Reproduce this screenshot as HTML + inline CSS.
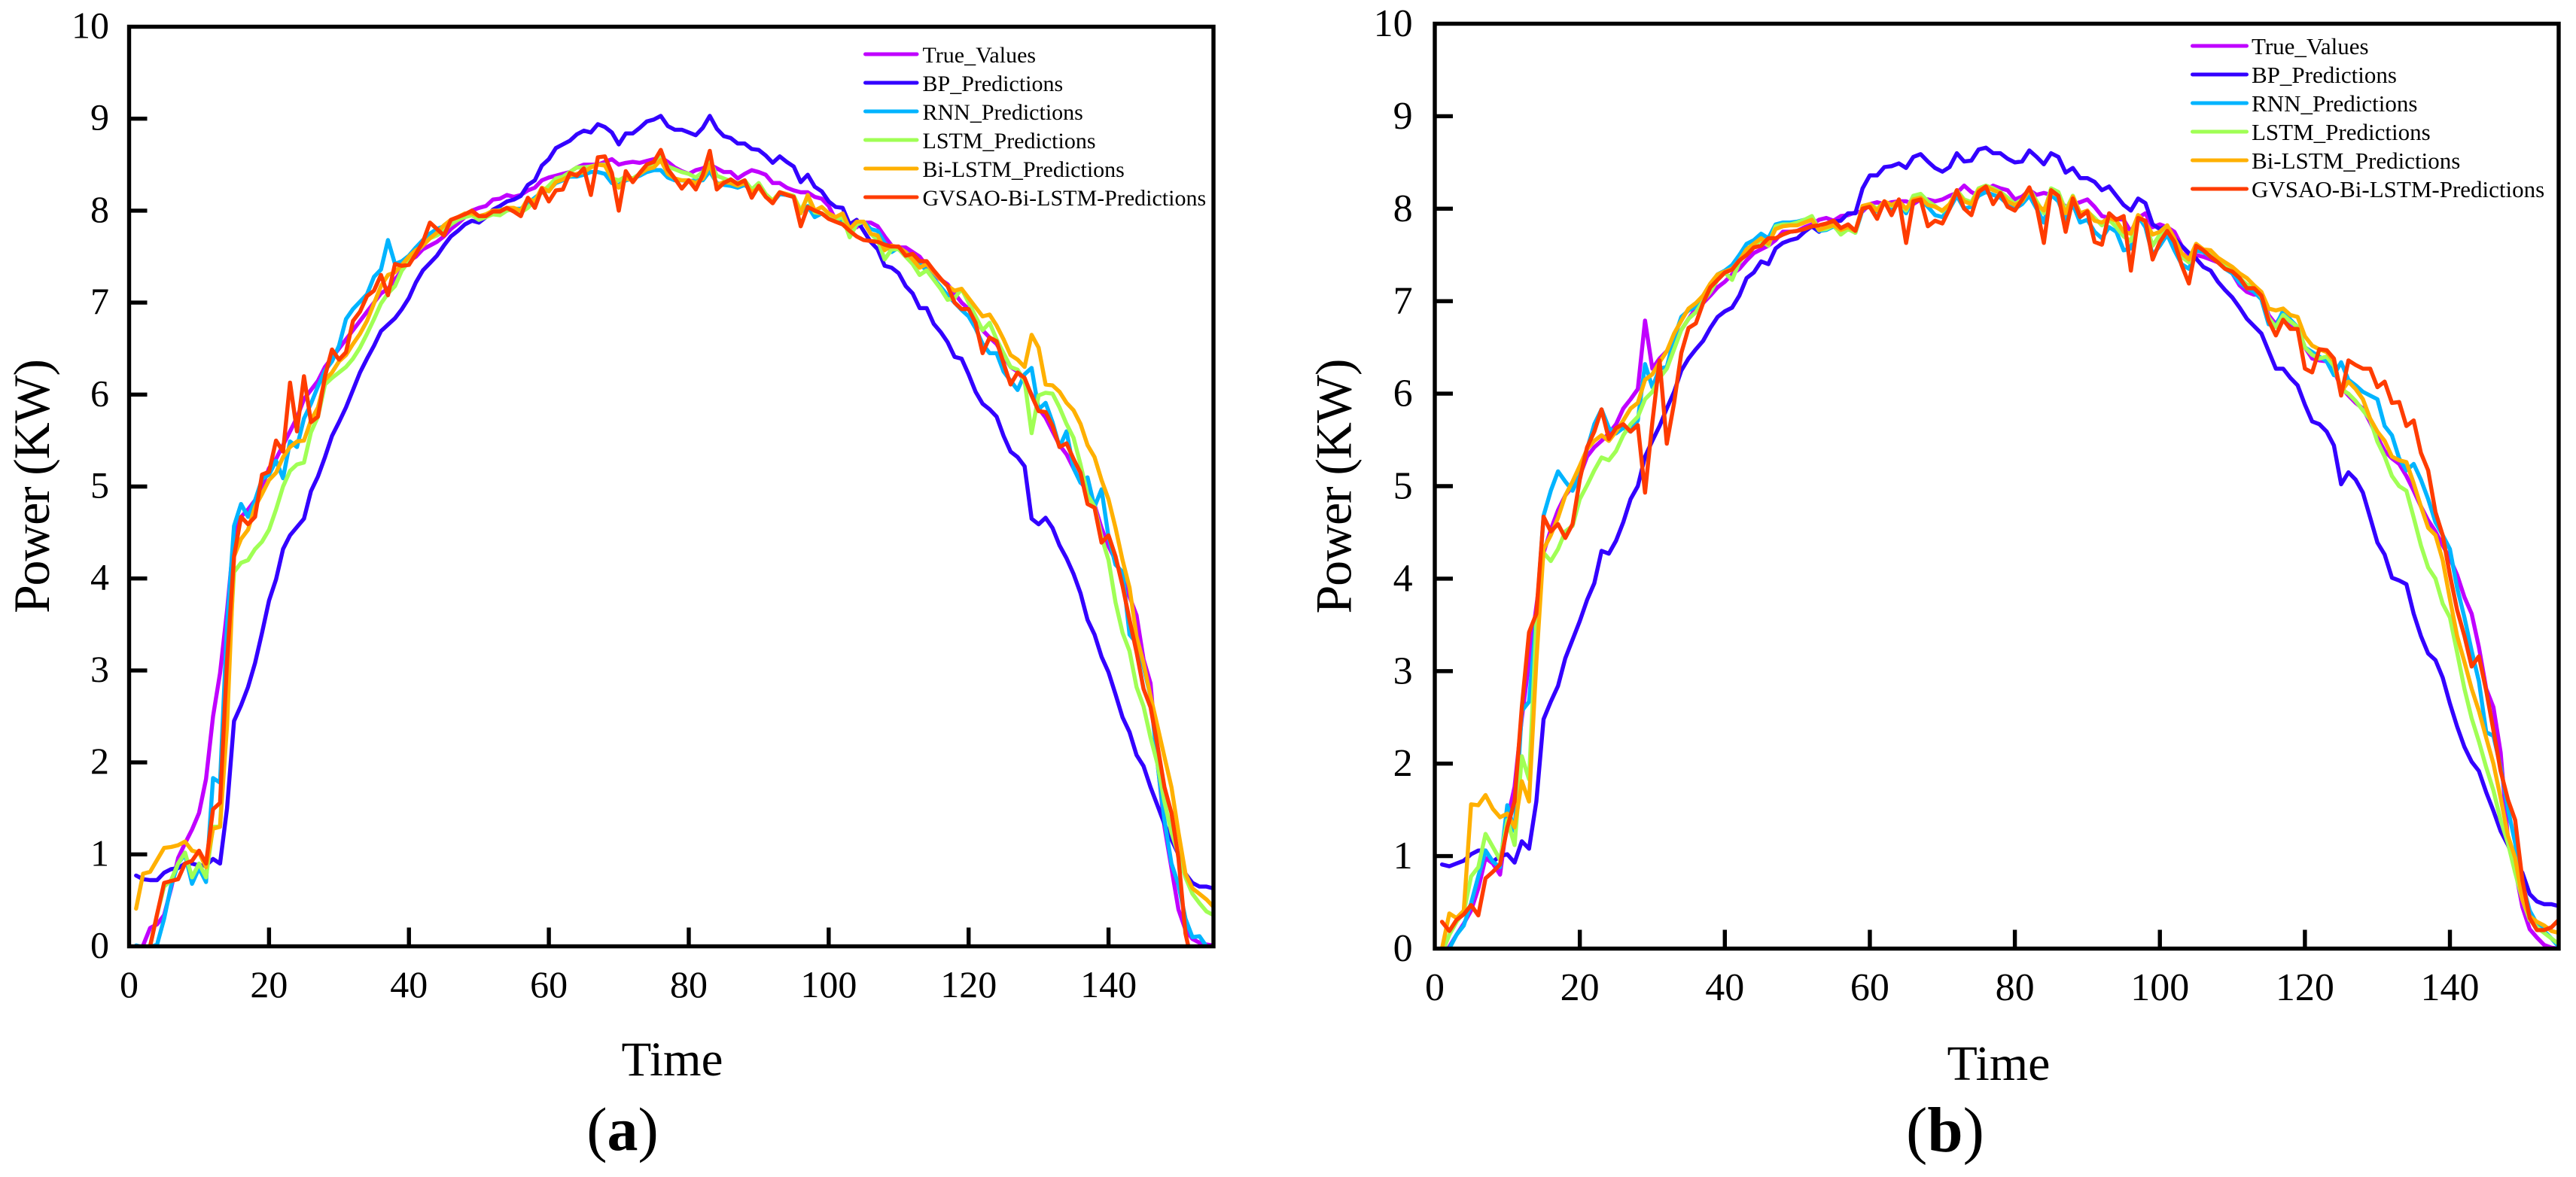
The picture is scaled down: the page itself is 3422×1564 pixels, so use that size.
<!DOCTYPE html>
<html lang="en">
<head>
<meta charset="utf-8">
<title>Power prediction comparison</title>
<style>
html,body{margin:0;padding:0;background:#fff;}
svg{display:block;font-family:"Liberation Serif","Times New Roman",serif;}
</style>
</head>
<body>
<svg id="figure" xmlns="http://www.w3.org/2000/svg" width="3422" height="1564" viewBox="0 0 3422 1564"></svg>
<script>
const seriesNames = ["True_Values","BP_Predictions","RNN_Predictions","LSTM_Predictions","Bi-LSTM_Predictions","GVSAO-Bi-LSTM-Predictions"];
const xTickValues = [0,20,40,60,80,100,120,140];
const yTickValues = [0,1,2,3,4,5,6,7,8,9,10];

const trueA = [
-.1,.01,.2,.24,.34,.63,.96,1.12,1.27,1.45,
1.82,2.5,2.97,3.65,4.45,4.67,4.75,4.85,5.0,5.2,
5.3,5.45,5.6,5.75,5.95,6.05,6.15,6.3,6.4,6.5,
6.6,6.7,6.8,6.9,7.0,7.1,7.15,7.25,7.35,7.45,
7.5,7.58,7.62,7.66,7.72,7.8,7.86,7.93,8.0,8.03,
8.05,8.12,8.13,8.17,8.15,8.17,8.22,8.25,8.33,8.36,
8.38,8.4,8.42,8.47,8.5,8.5,8.5,8.53,8.56,8.5,
8.52,8.53,8.52,8.54,8.56,8.58,8.53,8.47,8.43,8.4,
8.44,8.46,8.5,8.46,8.42,8.42,8.35,8.4,8.44,8.42,
8.39,8.3,8.3,8.25,8.22,8.2,8.2,8.15,8.13,8.05,
7.9,7.92,7.8,7.82,7.87,7.87,7.83,7.72,7.62,7.6,
7.6,7.55,7.5,7.4,7.3,7.25,7.2,7.1,7.0,6.93,
6.83,6.7,6.62,6.55,6.42,6.3,6.25,6.15,6.0,5.85,
5.75,5.6,5.45,5.35,5.2,5.05,4.95,4.8,4.55,4.35,
4.2,4.0,3.8,3.6,3.12,2.86,2.0,1.3,.85,.4,
.18,.08,.04,.02,.01];
const bpA = [
.77,.73,.72,.72,.8,.84,.85,.9,.9,.88,
.88,.95,.9,1.5,2.45,2.62,2.82,3.08,3.41,3.76,
3.99,4.32,4.47,4.56,4.65,4.95,5.11,5.32,5.55,5.7,
5.86,6.05,6.24,6.39,6.53,6.69,6.76,6.83,6.93,7.05,
7.22,7.35,7.43,7.51,7.62,7.72,7.78,7.85,7.89,7.87,
7.93,8.01,8.05,8.1,8.12,8.16,8.28,8.33,8.49,8.56,
8.68,8.72,8.76,8.83,8.87,8.85,8.94,8.91,8.85,8.72,
8.84,8.84,8.9,8.97,8.99,9.03,8.92,8.88,8.88,8.85,
8.82,8.9,9.03,8.89,8.81,8.79,8.73,8.73,8.67,8.66,
8.6,8.52,8.59,8.53,8.48,8.31,8.39,8.26,8.21,8.1,
8.04,8.03,7.85,7.9,7.78,7.66,7.58,7.4,7.38,7.32,
7.18,7.1,6.94,6.94,6.77,6.68,6.57,6.41,6.39,6.22,
6.03,5.9,5.84,5.76,5.55,5.38,5.32,5.22,4.65,4.59,
4.66,4.55,4.36,4.22,4.05,3.84,3.55,3.39,3.15,2.98,
2.74,2.49,2.33,2.08,1.96,1.73,1.53,1.33,1.16,1.0,
.79,.69,.65,.65,.63];
const rnnA = [
.01,-.01,-.01,.02,.3,.66,.9,1.0,.68,.85,
.7,1.83,1.78,3.5,4.57,4.81,4.67,4.85,5.08,5.13,
5.28,5.09,5.49,5.43,5.74,5.9,6.09,6.26,6.36,6.53,
6.82,6.93,7.01,7.09,7.28,7.36,7.68,7.42,7.45,7.51,
7.6,7.68,7.75,7.8,7.83,7.87,7.92,7.94,7.96,7.93,
7.95,7.98,8.01,8.02,8.02,8.02,8.08,8.14,8.2,8.22,
8.3,8.33,8.37,8.37,8.39,8.42,8.42,8.4,8.3,8.28,
8.33,8.35,8.38,8.42,8.44,8.44,8.36,8.33,8.33,8.32,
8.33,8.33,8.43,8.3,8.28,8.27,8.25,8.28,8.22,8.28,
8.17,8.09,8.18,8.17,8.15,7.98,8.05,7.93,7.97,7.92,
7.89,7.88,7.78,7.85,7.88,7.8,7.78,7.65,7.55,7.6,
7.55,7.5,7.42,7.35,7.26,7.17,7.08,7.0,6.92,6.85,
6.72,6.55,6.45,6.45,6.25,6.15,6.05,6.22,6.29,5.84,
5.91,5.7,5.43,5.6,5.2,5.04,5.1,4.78,4.97,4.45,
4.15,4.07,3.39,3.3,3.04,2.72,1.98,1.37,.9,.67,
.3,.1,.11,0,-.02];
const lstmA = [
-.2,-.1,0,.35,.65,.72,.9,1.02,.75,.9,
.75,1.3,1.3,2.8,4.07,4.17,4.2,4.32,4.4,4.53,
4.75,5.0,5.17,5.24,5.26,5.59,5.76,6.11,6.18,6.24,
6.3,6.39,6.51,6.66,6.82,6.99,7.1,7.18,7.35,7.45,
7.55,7.62,7.7,7.73,7.78,7.85,7.9,7.93,7.95,7.9,
7.93,7.96,7.95,8.0,8.02,7.98,8.03,8.12,8.2,8.27,
8.35,8.37,8.42,8.47,8.47,8.48,8.5,8.5,8.35,8.33,
8.37,8.35,8.4,8.48,8.52,8.6,8.48,8.45,8.42,8.4,
8.36,8.42,8.55,8.38,8.35,8.32,8.3,8.33,8.23,8.3,
8.18,8.11,8.2,8.18,8.16,8.0,8.15,7.98,7.97,7.93,
7.9,7.93,7.71,7.85,7.88,7.75,7.68,7.47,7.58,7.58,
7.5,7.42,7.3,7.35,7.25,7.15,7.03,7.05,7.15,7.0,
6.85,6.7,6.78,6.6,6.45,6.3,6.27,6.15,5.58,5.99,
6.02,6.01,5.86,5.68,5.53,5.24,4.91,4.78,4.45,4.2,
3.74,3.41,3.21,2.82,2.61,2.27,1.98,1.57,1.24,1.0,
.75,.57,.47,.38,.34];
const biA = [
.41,.79,.81,.94,1.07,1.08,1.1,1.14,1.04,1.02,
.86,1.28,1.3,2.4,4.24,4.43,4.53,4.78,4.92,5.07,
5.15,5.32,5.43,5.49,5.5,5.72,5.86,6.16,6.24,6.36,
6.43,6.55,6.66,6.8,6.99,7.18,7.3,7.33,7.41,7.5,
7.57,7.62,7.7,7.76,7.84,7.9,7.93,7.97,7.97,7.94,
7.96,8.0,8.0,8.03,8.03,8.0,8.13,8.1,8.25,8.21,
8.31,8.34,8.38,8.4,8.42,8.47,8.5,8.49,8.35,8.25,
8.35,8.33,8.4,8.45,8.47,8.55,8.4,8.35,8.33,8.33,
8.3,8.35,8.5,8.28,8.31,8.3,8.27,8.3,8.2,8.25,
8.15,8.1,8.2,8.18,8.15,7.97,8.17,8.0,8.04,7.97,
7.93,7.97,7.8,7.88,7.88,7.75,7.73,7.57,7.62,7.6,
7.55,7.47,7.38,7.42,7.33,7.25,7.18,7.13,7.15,7.05,
6.95,6.85,6.87,6.75,6.6,6.43,6.38,6.3,6.65,6.51,
6.11,6.1,6.03,5.91,5.83,5.68,5.45,5.32,5.07,4.86,
4.55,4.2,3.9,3.37,3.08,2.72,2.39,2.06,1.73,1.24,
.79,.63,.57,.51,.43];
const gvsaoA = [
-.6,-.3,0,.35,.69,.71,.73,.9,.93,1.04,
.9,1.49,1.56,3.1,4.24,4.67,4.59,4.67,5.13,5.16,
5.5,5.38,6.13,5.6,6.2,5.7,5.76,6.2,6.49,6.38,
6.46,6.8,6.9,7.07,7.13,7.3,7.08,7.42,7.4,7.41,
7.53,7.66,7.87,7.8,7.73,7.9,7.93,7.96,8.0,7.94,
7.94,7.99,7.99,8.03,7.99,7.94,8.14,8.03,8.24,8.1,
8.22,8.23,8.41,8.38,8.46,8.17,8.58,8.59,8.41,8.0,
8.43,8.31,8.41,8.5,8.53,8.66,8.45,8.35,8.24,8.33,
8.23,8.39,8.65,8.23,8.3,8.34,8.29,8.33,8.14,8.27,
8.15,8.08,8.2,8.17,8.15,7.83,8.04,8.0,7.97,7.91,
7.88,7.85,7.78,7.72,7.68,7.67,7.66,7.63,7.61,7.61,
7.51,7.53,7.45,7.45,7.35,7.26,7.18,7.0,6.93,6.93,
6.78,6.45,6.62,6.58,6.34,6.11,6.24,6.18,5.99,5.82,
5.81,5.66,5.43,5.47,5.3,5.15,4.81,4.77,4.39,4.47,
4.24,3.92,3.55,3.2,2.8,2.6,2.18,1.73,1.45,.96,
.14,-.2,-.4,-.5,-.5];

const trueB = [
-.1,.02,.15,.27,.41,.65,.98,.92,.8,1.39,
1.75,2.49,3.1,3.7,4.28,4.53,4.74,4.9,5.0,5.11,
5.32,5.42,5.49,5.57,5.67,5.84,5.94,6.05,6.79,6.27,
6.38,6.46,6.59,6.69,6.81,6.92,6.98,7.06,7.15,7.21,
7.29,7.35,7.44,7.52,7.56,7.6,7.66,7.75,7.75,7.76,
7.8,7.83,7.88,7.9,7.87,7.92,7.93,7.96,7.97,8.05,
8.07,8.05,8.07,8.08,8.08,8.05,8.1,8.1,8.08,8.1,
8.14,8.17,8.25,8.18,8.14,8.2,8.25,8.22,8.2,8.1,
8.13,8.2,8.15,8.17,8.15,8.1,8.02,8.05,8.07,8.1,
8.02,7.92,7.9,7.89,7.88,7.75,7.9,7.95,7.8,7.83,
7.8,7.75,7.6,7.5,7.5,7.48,7.45,7.42,7.37,7.3,
7.17,7.1,7.07,7.07,6.85,6.75,6.88,6.75,6.7,6.5,
6.38,6.36,6.35,6.25,6.07,5.98,5.9,5.84,5.69,5.53,
5.38,5.3,5.24,5.11,4.95,4.78,4.63,4.51,4.36,4.22,
4.04,3.8,3.62,3.26,2.81,2.61,2.12,1.18,.86,.45,
.21,.12,.04,.01,0];
const bpB = [
.91,.89,.92,.95,1.02,1.06,1.06,.94,1.0,1.02,
.93,1.16,1.08,1.59,2.48,2.67,2.84,3.14,3.34,3.54,
3.77,3.95,4.3,4.27,4.41,4.61,4.86,5.0,5.32,5.49,
5.65,5.84,6.02,6.25,6.38,6.48,6.57,6.71,6.83,6.89,
6.93,7.06,7.25,7.31,7.43,7.4,7.57,7.63,7.66,7.68,
7.75,7.81,7.75,7.81,7.86,7.87,7.95,7.95,8.22,8.36,
8.36,8.45,8.46,8.49,8.44,8.56,8.59,8.51,8.44,8.4,
8.45,8.6,8.51,8.52,8.64,8.66,8.6,8.6,8.54,8.5,
8.51,8.63,8.56,8.48,8.6,8.56,8.39,8.44,8.33,8.33,
8.29,8.2,8.24,8.14,8.04,7.98,8.11,8.06,7.83,7.78,
7.81,7.68,7.6,7.52,7.46,7.37,7.33,7.21,7.12,7.04,
6.93,6.81,6.73,6.65,6.46,6.27,6.27,6.17,6.09,5.88,
5.7,5.67,5.59,5.44,5.02,5.15,5.07,4.93,4.66,4.39,
4.26,4.01,3.98,3.94,3.62,3.38,3.19,3.12,2.93,2.65,
2.4,2.18,2.02,1.92,1.69,1.49,1.27,1.12,.94,.82,
.59,.51,.48,.48,.46];
const rnnB = [
-.1,0,.15,.25,.49,.78,1.06,.94,.88,1.55,
1.27,2.57,2.67,3.58,4.68,4.95,5.16,5.05,4.95,5.11,
5.4,5.67,5.83,5.63,5.57,5.63,5.59,5.71,6.32,6.07,
6.27,6.29,6.6,6.83,6.9,6.94,7.06,7.17,7.29,7.33,
7.39,7.5,7.62,7.66,7.73,7.68,7.83,7.85,7.85,7.86,
7.88,7.9,7.76,7.77,7.81,7.74,7.79,7.74,7.99,8.04,
7.97,8.07,7.99,8.06,7.95,8.12,8.1,8.02,7.93,7.91,
8.0,8.14,8.0,8.02,8.14,8.18,8.15,8.12,8.05,8.0,
8.05,8.14,8.0,7.85,8.15,8.08,7.88,8.05,7.85,7.88,
7.75,7.68,7.8,7.75,7.55,7.57,7.92,7.8,7.5,7.6,
7.72,7.55,7.4,7.35,7.55,7.53,7.48,7.42,7.35,7.3,
7.2,7.14,7.1,7.02,6.75,6.73,6.9,6.8,6.72,6.5,
6.45,6.4,6.35,6.2,6.34,6.15,6.09,6.02,5.98,5.94,
5.65,5.55,5.3,5.17,5.24,5.07,4.86,4.61,4.47,4.32,
3.9,3.58,3.22,2.89,2.34,2.3,1.96,1.51,1.14,.7,
.41,.27,.19,.11,.02];
const lstmB = [
-.05,.15,.29,.39,.78,.88,1.24,1.1,.96,1.39,
1.12,2.08,1.83,3.5,4.28,4.19,4.32,4.51,4.57,4.86,
5.01,5.17,5.31,5.28,5.38,5.55,5.67,5.75,5.94,6.02,
6.17,6.27,6.48,6.69,6.81,6.88,7.0,7.1,7.23,7.31,
7.23,7.42,7.54,7.6,7.66,7.6,7.81,7.83,7.83,7.85,
7.88,7.92,7.77,7.78,7.82,7.72,7.78,7.74,8.02,8.05,
8.0,8.07,8.03,8.07,7.98,8.14,8.16,8.08,8.03,7.97,
8.05,8.2,8.1,8.07,8.22,8.25,8.22,8.18,8.12,8.05,
8.1,8.22,8.08,7.95,8.22,8.18,7.98,8.14,7.95,7.97,
7.9,7.82,7.88,7.8,7.7,7.65,7.93,7.85,7.6,7.72,
7.82,7.65,7.48,7.42,7.6,7.55,7.5,7.45,7.38,7.33,
7.25,7.18,7.15,7.05,6.82,6.72,6.85,6.78,6.72,6.5,
6.42,6.38,6.4,6.3,6.05,6.0,5.92,5.82,5.72,5.48,
5.32,5.11,5.0,4.95,4.66,4.36,4.12,4.0,3.73,3.58,
3.2,2.81,2.49,2.24,1.96,1.71,1.39,1.14,.82,.53,
.31,.23,.17,.11,.05];
const biB = [
0,.38,.33,.41,1.56,1.55,1.66,1.51,1.42,1.46,
1.31,1.81,1.59,3.1,4.32,4.47,4.66,4.9,5.05,5.22,
5.4,5.49,5.55,5.49,5.59,5.71,5.84,5.9,6.15,6.21,
6.34,6.46,6.65,6.79,6.92,6.98,7.06,7.19,7.29,7.32,
7.35,7.44,7.56,7.62,7.68,7.62,7.78,7.81,7.82,7.82,
7.85,7.88,7.77,7.8,7.82,7.77,7.8,7.76,8.03,8.05,
7.98,8.08,8.04,8.08,8.0,8.1,8.12,8.04,8.02,7.98,
8.05,8.18,8.08,8.05,8.2,8.24,8.2,8.17,8.08,8.04,
8.08,8.2,8.05,7.98,8.18,8.14,7.95,8.13,7.95,7.98,
7.87,7.85,7.9,7.87,7.75,7.73,7.93,7.85,7.72,7.75,
7.82,7.68,7.52,7.45,7.62,7.56,7.55,7.47,7.42,7.37,
7.3,7.25,7.17,7.1,6.92,6.9,6.92,6.85,6.83,6.62,
6.52,6.48,6.45,6.35,6.02,6.13,6.05,5.94,5.73,5.59,
5.49,5.32,5.28,5.26,5.03,4.78,4.55,4.47,4.2,3.78,
3.38,3.1,2.81,2.57,2.28,2.0,1.63,1.22,.98,.53,
.35,.29,.25,.19,.17];
const gvsaoB = [
.29,.19,.31,.37,.47,.36,.76,.83,.91,1.31,
1.59,2.61,3.42,3.62,4.67,4.51,4.59,4.44,4.59,5.07,
5.42,5.59,5.83,5.51,5.63,5.67,5.59,5.66,4.93,5.69,
6.36,5.46,5.9,6.44,6.71,6.76,6.98,7.15,7.23,7.31,
7.34,7.44,7.5,7.58,7.6,7.68,7.68,7.72,7.75,7.76,
7.78,7.81,7.82,7.84,7.87,7.79,7.83,7.76,8.0,8.02,
7.89,8.08,7.93,8.1,7.63,8.08,8.1,7.81,7.87,7.84,
8.0,8.2,8.0,7.93,8.18,8.24,8.05,8.17,8.02,7.98,
8.1,8.23,8.02,7.63,8.2,8.14,7.75,8.11,7.91,7.97,
7.64,7.61,7.95,7.88,7.92,7.33,7.9,7.87,7.45,7.64,
7.76,7.64,7.39,7.19,7.6,7.55,7.48,7.42,7.35,7.32,
7.25,7.14,7.14,7.06,6.79,6.63,6.8,6.7,6.7,6.27,
6.23,6.48,6.47,6.38,5.98,6.36,6.31,6.27,6.27,6.07,
6.13,5.9,5.91,5.65,5.71,5.36,5.17,4.72,4.47,4.04,
3.66,3.38,3.05,3.16,2.79,2.36,1.92,1.61,1.39,.74,
.33,.2,.2,.23,.31];

const panels = [
 {id:'a',title:'a',x0:171.5,x155:1612,yTop:35.5,yBot:1257.5,
  series:[trueA,bpA,rnnA,lstmA,biA,gvsaoA],
  font:50,yLabelX:145,xLabelBase:1325,yLabelShift:15,
  timeX:893,timeBase:1429,timeSize:65,
  powerX:65,powerY:646,powerLen:338,powerSize:68,
  capCx:827,capBase:1528,capSize:82,
  legX1:1147.5,legX2:1220,legTextX:1225.5,legY:72,legStep:38,legFont:30},
 {id:'b',title:'b',x0:1906,x155:3399,yTop:31.5,yBot:1260.5,
  series:[trueB,bpB,rnnB,lstmB,biB,gvsaoB],
  font:52,yLabelX:1876.6,xLabelBase:1329,yLabelShift:16.5,
  timeX:2655,timeBase:1435,timeSize:66,
  powerX:1794.5,powerY:646,powerLen:339,powerSize:68,
  capCx:2584,capBase:1530,capSize:85,
  legX1:2910.5,legX2:2986.5,legTextX:2991,legY:61,legStep:38,legFont:31}
];
const colors = ['#C000FF','#3300FF','#00B4FF','#A0FF55','#FFB000','#FF3C00'];
const seriesKeys = ['true-values','bp-predictions','rnn-predictions','lstm-predictions','bi-lstm-predictions','gvsao-bi-lstm-predictions'];

const NS = 'http://www.w3.org/2000/svg';
const root = document.getElementById('figure');
function mk(tag, attrs, parent){
  const el = document.createElementNS(NS, tag);
  for (const k in attrs) el.setAttribute(k, attrs[k]);
  parent.appendChild(el);
  return el;
}

panels.forEach(function(p){
  const xScale = function(v){ return p.x0 + (p.x155 - p.x0) * v / 155; };
  const yScale = function(v){ return p.yBot - (p.yBot - p.yTop) * v / 10; };

  const g = mk('g', {}, root);
  
  

  const defs = mk('defs', {}, g);
  const clip = mk('clipPath', {id:'clip-' + p.id}, defs);
  mk('rect', {x:p.x0, y:p.yTop, width:p.x155 - p.x0, height:p.yBot - p.yTop}, clip);

  const linesGroup = mk('g', {'clip-path':'url(#clip-' + p.id + ')'}, g);
  p.series.forEach(function(vals, i){
    const pts = vals.map(function(v, k){ return xScale(k + 1).toFixed(1) + ',' + yScale(v).toFixed(1); }).join(' ');
    const line = mk('polyline', {points:pts, fill:'none', stroke:colors[i], 'stroke-width':5.4, 'stroke-linejoin':'round', 'stroke-linecap':'round'}, linesGroup);
    
    
  });

  const frame = mk('rect', {x:p.x0, y:p.yTop, width:p.x155 - p.x0, height:p.yBot - p.yTop, fill:'none', stroke:'#000', 'stroke-width':5.4}, g);
  
  

  xTickValues.forEach(function(v){
    const x = xScale(v);
    if (v > 0) {
      const tick = mk('line', {x1:x, x2:x, y1:p.yBot, y2:p.yBot - 25, stroke:'#000', 'stroke-width':5.4}, g);
      
      
    }
    const label = mk('text', {x:x, y:p.xLabelBase, 'text-anchor':'middle', 'font-size':p.font, fill:'#000'}, g);
    
    
    label.textContent = String(v);
  });

  yTickValues.forEach(function(v){
    const y = yScale(v);
    if (v > 0 && v < 10) {
      const tick = mk('line', {x1:p.x0, x2:p.x0 + 24, y1:y, y2:y, stroke:'#000', 'stroke-width':5.4}, g);
      
      
    }
    const label = mk('text', {x:p.yLabelX, y:y + p.yLabelShift, 'text-anchor':'end', 'font-size':p.font, fill:'#000'}, g);
    
    
    label.textContent = String(v);
  });

  const timeLabel = mk('text', {x:p.timeX, y:p.timeBase, 'text-anchor':'middle', 'font-size':p.timeSize, fill:'#000'}, g);
  
  
  timeLabel.textContent = 'Time';

  const powerLabel = mk('text', {x:0, y:0, 'text-anchor':'middle', 'font-size':p.powerSize, fill:'#000', textLength:p.powerLen, lengthAdjust:'spacing', transform:'translate(' + p.powerX + ' ' + p.powerY + ') rotate(-90)'}, g);
  
  
  powerLabel.textContent = 'Power (KW)';

  const caption = mk('text', {x:p.capCx, y:p.capBase, 'text-anchor':'middle', 'font-size':p.capSize, fill:'#000'}, g);
  
  
  caption.appendChild(document.createTextNode('('));
  const bold = mk('tspan', {'font-weight':'bold'}, caption);
  bold.textContent = p.title;
  caption.appendChild(document.createTextNode(')'));

  const legend = mk('g', {}, g);
  
  
  seriesNames.forEach(function(name, i){
    const y = p.legY + i * p.legStep;
    const entry = mk('g', {}, legend);
    
    
    mk('line', {x1:p.legX1 + 2, x2:p.legX2 - 2, y1:y, y2:y, stroke:colors[i], 'stroke-width':5, 'stroke-linecap':'round'}, entry);
    const t = mk('text', {x:p.legTextX, y:y + 11, 'font-size':p.legFont, fill:'#000'}, entry);
    t.textContent = name;
  });
});
</script>
</body>
</html>
